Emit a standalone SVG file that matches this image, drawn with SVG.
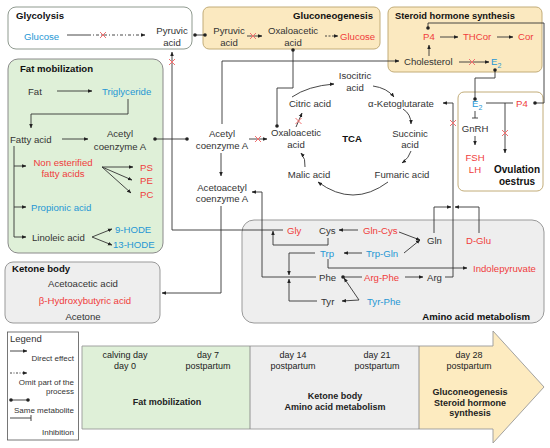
<svg xmlns="http://www.w3.org/2000/svg" width="550" height="448" viewBox="0 0 550 448">
<style>
text{font-family:"Liberation Sans",Arial,sans-serif;font-size:9.6px;fill:#333}
.r{fill:#f03c3c}
.b{fill:#2697d4}
.h{font-weight:bold;fill:#111}
.c{text-anchor:middle}
.e{text-anchor:end}
.ln{fill:none;stroke:#333;stroke-width:0.9}
.a{marker-end:url(#ah)}
.lg{font-size:8px}
.tl{font-size:9px;fill:#222}
</style>
<defs>
<marker id="ah" viewBox="0 0 6 6" refX="5.5" refY="3" markerWidth="4.5" markerHeight="4.5" markerUnits="userSpaceOnUse" orient="auto"><path d="M0,0.6 L6,3 L0,5.4 z" fill="#222"/></marker>
<marker id="dot" viewBox="0 0 4 4" refX="2" refY="2" markerWidth="3.6" markerHeight="3.6" markerUnits="userSpaceOnUse"><circle cx="2" cy="2" r="2" fill="#222"/></marker>
<path id="x" d="M-3,-3 L3,3 M3,-3 L-3,3" stroke="#f07070" stroke-width="1" fill="none"/>
</defs>

<!-- boxes -->
<g id="glycolysis">
<rect x="8" y="7" width="184" height="42" rx="8" fill="#fff" stroke="#8f9a8f"/>
<text class="h" x="16" y="19">Glycolysis</text>
<text class="b" x="24" y="40">Glucose</text>
<text class="c" x="172" y="34">Pyruvic</text><text class="c" x="172" y="46">acid</text>
</g>
<g id="gluconeogenesis">
<rect x="203" y="7" width="177" height="42" rx="6" fill="#fbe9c0" stroke="#c2ac78"/>
<text class="h e" x="373" y="19">Gluconeogenesis</text>
<text class="c" x="229" y="34">Pyruvic</text><text class="c" x="229" y="46">acid</text>
<text class="c" x="293" y="34">Oxaloacetic</text><text class="c" x="293" y="46">acid</text>
<text class="r" x="340" y="40">Glucose</text>
</g>
<g id="steroid">
<rect x="388" y="7" width="154" height="65" rx="6" fill="#fbe9c0" stroke="#c2ac78"/>
<text class="h" x="395" y="19" style="font-size:9.3px">Steroid hormone synthesis</text>
<text class="r" x="423" y="40">P4</text>
<text class="r" x="463" y="40">THCor</text>
<text class="r" x="518" y="40">Cor</text>
<text x="404" y="65">Cholesterol</text>
<text class="b" x="491" y="65">E<tspan style="font-size:7px" dy="2.5">2</tspan></text>
</g>
<g id="hormone">
<rect x="458" y="92" width="85" height="99" rx="6" fill="#fff" stroke="#c2ac78"/>
<text class="b" x="472" y="107">E<tspan style="font-size:7px" dy="2.5">2</tspan></text>
<text class="r" x="516" y="107">P4</text>
<text class="c" x="475" y="132">GnRH</text>
<text class="r c" x="475" y="161">FSH</text>
<text class="r c" x="475" y="172.5">LH</text>
<text class="h c" x="517" y="172.5" style="font-size:10px">Ovulation</text>
<text class="h c" x="517" y="185" style="font-size:10px">oestrus</text>
</g>
<g id="fat">
<rect x="8" y="59" width="155" height="194" rx="10" fill="#dff0d8" stroke="#8a8a8a"/>
<text class="h" x="20" y="72">Fat mobilization</text>
<text x="28" y="95">Fat</text>
<text class="b" x="102" y="95">Triglyceride</text>
<text x="10" y="142.5">Fatty acid</text>
<text class="c" x="120" y="136.5">Acetyl</text><text class="c" x="120" y="149.5">coenzyme A</text>
<text class="r c" x="63" y="165.5">Non esterified</text><text class="r c" x="63" y="176.5">fatty acids</text>
<text class="r" x="140" y="170.5">PS</text>
<text class="r" x="140" y="183.5">PE</text>
<text class="r" x="140" y="197.5">PC</text>
<text class="b" x="31" y="210.5">Propionic acid</text>
<text x="32" y="240.5">Linoleic acid</text>
<text class="b" x="115" y="232.5">9-HODE</text>
<text class="b" x="113" y="248">13-HODE</text>
</g>
<g id="tca">
<text class="c" x="355" y="78.5">Isocitric</text><text class="c" x="355" y="91">acid</text>
<text class="c" x="401" y="106.5">α-Ketoglutarate</text>
<text class="c" x="310" y="106.5">Citric acid</text>
<text class="c" x="296" y="136">Oxaloacetic</text><text class="c" x="296" y="148">acid</text>
<text class="h c" x="352" y="141.5">TCA</text>
<text class="c" x="309" y="177.5">Malic acid</text>
<text class="c" x="402" y="178">Fumaric acid</text>
<text class="c" x="410" y="136.5">Succinic</text><text class="c" x="410" y="147.5">acid</text>
<text class="c" x="222" y="136.5">Acetyl</text><text class="c" x="222" y="148.5">coenzyme A</text>
<text class="c" x="222" y="190.5">Acetoacetyl</text><text class="c" x="222" y="201.5">coenzyme A</text>
</g>
<g id="ketone">
<rect x="5" y="262" width="155" height="61" rx="8" fill="#eeeeee" stroke="#999"/>
<text class="h" x="12" y="272">Ketone body</text>
<text class="c" x="83" y="286.5">Acetoacetic acid</text>
<text class="r c" x="85" y="303.5">β-Hydroxybutyric acid</text>
<text class="c" x="83" y="319.5">Acetone</text>
</g>
<g id="amino">
<rect x="242" y="220" width="302" height="103" rx="12" fill="#eeeeee" stroke="#999"/>
<text class="r" x="287" y="233.5">Gly</text>
<text x="319" y="233.5">Cys</text>
<text class="r" x="363" y="233.5">Gln-Cys</text>
<text x="427" y="243.5">Gln</text>
<text class="r" x="466" y="243.5">D-Glu</text>
<text class="b" x="320" y="256.5">Trp</text>
<text class="b" x="366" y="256.5">Trp-Gln</text>
<text class="r" x="473" y="272">Indolepyruvate</text>
<text x="319" y="280.5">Phe</text>
<text class="r" x="364" y="280.5">Arg-Phe</text>
<text x="427" y="280.5">Arg</text>
<text x="321" y="304.5">Tyr</text>
<text class="b" x="367" y="304.5">Tyr-Phe</text>
<text class="h e" x="530" y="319.5">Amino acid metabolism</text>
</g>

<!-- connectors -->
<g id="connectors">
<path class="ln" d="M67,35 H88"/>
<path class="ln a" d="M88,35 H145" stroke-dasharray="3 2 1 2"/>
<use href="#x" x="103" y="35"/>
<path class="ln" d="M195,35 H205" marker-start="url(#dot)" marker-end="url(#dot)"/>
<path class="ln a" d="M247,36 H262"/>
<use href="#x" x="253" y="36"/>
<path class="ln a" d="M325,36 H338" stroke-dasharray="2 1.5"/>
<path class="ln" d="M293,50 V88 H277 V126" marker-start="url(#dot)" marker-end="url(#dot)"/>
<path class="ln a" d="M440,37 H458"/>
<path class="ln a" d="M497,37 H513"/>
<path class="ln a" d="M429,56 V45"/>
<path class="ln a" d="M459,62 H489"/>
<use href="#x" x="472" y="62"/>
<path class="ln" d="M428,28 V23 H544 V103 H535" marker-start="url(#dot)" marker-end="url(#dot)"/>
<path class="ln" d="M495,70 V78 H475 V99" marker-start="url(#dot)" marker-end="url(#dot)"/>
<path class="ln a" d="M222,124 V61 H399"/>
<path class="ln" d="M486,103 H513"/>
<path class="ln a" d="M505,103 V153"/>
<use href="#x" x="505" y="133"/>
<path class="ln" d="M475,111 V118 M472,118 H478"/>
<path class="ln a" d="M475,136 V145"/>
<path class="ln a" d="M57,91 H92"/>
<path class="ln a" d="M128,99 V114 H31 V128"/>
<path class="ln a" d="M62,139 H88"/>
<path class="ln" d="M155,139 H187" marker-start="url(#dot)" marker-end="url(#dot)"/>
<path class="ln a" d="M14,146 V237 H26"/>
<path class="ln a" d="M14,166 H26"/>
<path class="ln a" d="M14,207 H26"/>
<path class="ln a" d="M102,167 L133,167"/>
<path class="ln a" d="M102,167 L132,180"/>
<path class="ln a" d="M102,167 L131,193"/>
<path class="ln a" d="M92,237 L112,229"/>
<path class="ln a" d="M92,237 L112,245"/>
<path class="ln a" d="M292,97 Q308,86 334,84"/>
<path class="ln a" d="M373,86 Q387,88 394,97"/>
<path class="ln a" d="M403,109 Q411,114 411,124"/>
<path class="ln a" d="M411,151 Q409,158 402,163"/>
<path class="ln a" d="M388,182 Q353,208 318,182"/>
<path class="ln a" d="M305,167 Q306,159 301,153"/>
<path class="ln a" d="M296,127 L302,113"/>
<use href="#x" x="298.5" y="121"/>
<path class="ln a" d="M249,139 H267"/>
<use href="#x" x="258" y="139"/>
<path class="ln a" d="M221,153 V176"/>
<path class="ln a" d="M221,206 V293 H162"/>
<path class="ln a" d="M283,230 H172 V52"/>
<use href="#x" x="172" y="62"/>
<path class="ln a" d="M328,238 V245 H273 V231"/>
<path class="ln a" d="M358,230 H339"/>
<path class="ln a" d="M399,232 L420,240"/>
<path class="ln a" d="M404,253 L420,240"/>
<path class="ln a" d="M362,253 H344"/>
<path class="ln a" d="M328,259 V268 H467"/>
<path class="ln a" d="M315,253 H289 V275"/>
<path class="ln a" d="M317,301 H289 V279"/>
<path class="ln a" d="M316,277 H262 V192 H252"/>
<path class="ln" d="M362,277 H343" marker-end="url(#dot)"/>
<path class="ln a" d="M405,277 H423"/>
<path class="ln a" d="M359,300 L344,278"/>
<path class="ln a" d="M359,300 L342,301"/>
<path class="ln a" d="M445,277 H453 V103 H443"/>
<use href="#x" x="453" y="123"/>
<path class="ln a" d="M434,233 V207 H451"/>
<path class="ln a" d="M479,233 V207 H455"/>
</g>

<g id="legend">
<rect x="7.5" y="332" width="71" height="108" fill="#fff" stroke="#555" stroke-width="0.8"/>
<text x="10" y="342" style="font-size:9.5px">Legend</text>
<path class="ln a" d="M10,351 H27"/>
<text class="lg e" x="74" y="361">Direct effect</text>
<path class="ln a" d="M10,373 H27" stroke-dasharray="2 1.5 1 1.5"/>
<text class="lg e" x="74" y="385">Omit part of the</text>
<text class="lg e" x="74" y="394">process</text>
<path class="ln" d="M11,400 H28" marker-start="url(#dot)" marker-end="url(#dot)"/>
<text class="lg e" x="74" y="413">Same metabolite</text>
<path class="ln" d="M10,418 H31 M31,415 V421"/>
<text class="lg e" x="74" y="435">Inhibition</text>
</g>

<g id="timeline">
<rect x="82" y="346" width="168" height="83" fill="#dff0d8"/>
<rect x="250" y="346" width="169" height="83" fill="#eeeeee"/>
<polygon points="419,346 493,346 493,331 544,387 493,443 493,429 419,429" fill="#fdebc0"/>
<polygon points="82,346 493,346 493,331 544,387 493,443 493,429 82,429" fill="none" stroke="#999" stroke-width="0.9"/>
<path d="M250,346 V429 M419,346 V429" stroke="#888" stroke-width="0.9"/>
<text class="tl c" x="125" y="358">calving day</text><text class="tl c" x="125" y="368.5">day 0</text>
<text class="tl c" x="208" y="358">day 7</text><text class="tl c" x="208" y="368.5">postpartum</text>
<text class="tl c h" x="167" y="405">Fat mobilization</text>
<text class="tl c" x="293" y="358">day 14</text><text class="tl c" x="293" y="368.5">postpartum</text>
<text class="tl c" x="377" y="358">day 21</text><text class="tl c" x="377" y="368.5">postpartum</text>
<text class="tl c" x="469" y="358">day 28</text><text class="tl c" x="469" y="368.5">postpartum</text>
<text class="tl c h" x="335" y="399">Ketone body</text>
<text class="tl c h" x="335" y="410">Amino acid metabolism</text>
<text class="tl c h" x="470" y="395">Gluconeogenesis</text>
<text class="tl c h" x="470" y="405.5">Steroid hormone</text>
<text class="tl c h" x="470" y="416">synthesis</text>
</g>
</svg>
